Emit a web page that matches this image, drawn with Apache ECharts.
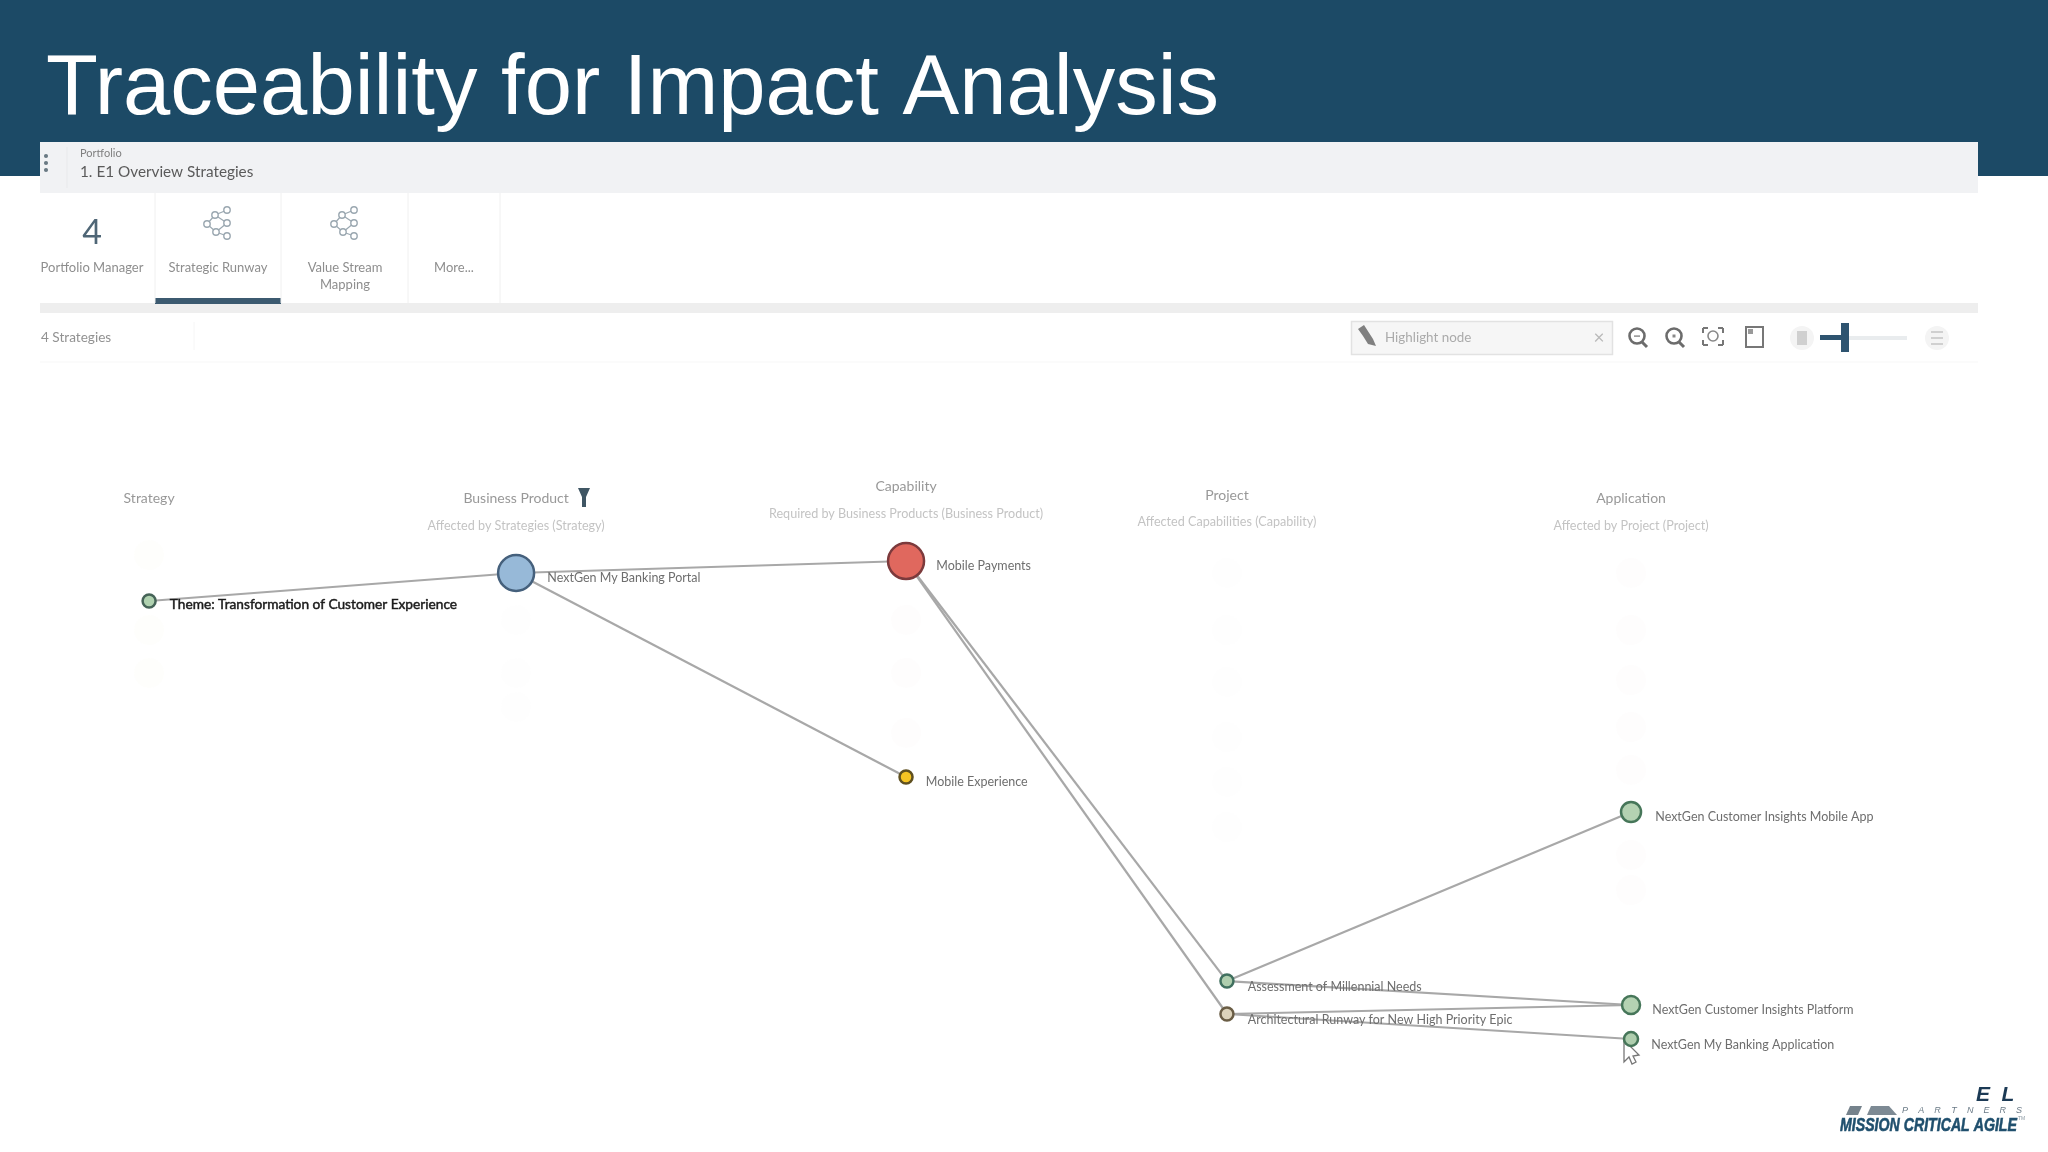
<!DOCTYPE html>
<html><head><meta charset="utf-8">
<style>html,body{margin:0;padding:0;background:#fff}#c{width:2048px;height:1152px;filter:blur(0.7px)}</style>
<script src="https://cdn.jsdelivr.net/npm/echarts@6/dist/echarts.min.js"></script>
</head><body><div id="c"></div>
<script>
// Column (tier) data, in percent of the slide width / height
const columnNames = ['Strategy','Business Product','Capability','Project','Application'];
const columnSubs  = ['','Affected by Strategies (Strategy)','Required by Business Products (Business Product)','Affected Capabilities (Capability)','Affected by Project (Project)'];
const columnX     = [7.28,25.2,44.24,59.91,79.64];
const headingY    = [43.23,43.23,42.27,42.97,43.23];
const subHeadingY = [45.6,45.66,44.6,45.31,45.66];
// Nodes
const nodeNames  = ['Theme: Transformation of Customer Experience','NextGen My Banking Portal','Mobile Payments','Mobile Experience','Assessment of Millennial Needs','Architectural Runway for New High Priority Epic','NextGen Customer Insights Mobile App','NextGen Customer Insights Platform','NextGen My Banking Application'];
const nodeColumn = [0,1,2,2,3,3,4,4,4];
const nodeRow    = [52.17,49.74,48.7,67.45,85.16,88.02,70.49,87.24,90.19];
const nodeSize   = [13,36,36,13,13,13,20,18,14];
const nodeFill   = ['#b0d2b0','#97b9d8','#e0685e','#f5c423','#afceae','#dcd2ba','#b4d2b2','#b4d2b2','#afceae'];
const nodeStroke = ['#466458','#45607c','#7c3a3c','#5f5020','#40705f','#6a5d45','#467659','#467659','#467659'];
const labelGap   = [13,12,11,12,13,13,13,11,12];
const labelDrop  = [4,5,5,5,6,6,5,5,6];
const linkFrom   = [0,1,1,2,2,4,4,5,5];
const linkTo     = [1,2,3,4,5,6,7,7,8];
// Nodes dimmed almost to nothing behind the highlighted path
const ghostColumn = [0,0,0,1,1,1,2,2,2,3,3,3,3,3,3,4,4,4,4,4,4,4];
const ghostRow    = [48.18,54.69,58.42,53.82,58.42,61.37,53.82,58.42,63.63,49.74,54.69,59.2,63.98,67.88,71.79,49.74,54.69,59.03,63.11,66.84,74.22,77.26];
const ghostColor  = ['#fefefb','#fefefe','#fefcfc','#fefefe','#fefdfd'];
// Page chrome text
const slideTitle = 'Traceability for Impact Analysis';
const crumbs     = ['Portfolio','1. E1 Overview Strategies'];
const tabCentres = [92,218,345,454];
const tabLabels  = ['Portfolio Manager','Strategic Runway','Value Stream\nMapping','More...'];
const tabDividers= [155,281,408,500];
const logoLetters= ['P','A','R','T','N','E','R','S'];

const UI = 'Lato, "Open Sans", sans-serif';
const txt = (x,y,text,size,fill,align,extra) => ({type:'text',x,y,style:Object.assign({text,font:`${size}px ${UI}`,fill,align:align||'left',verticalAlign:'middle'},extra||{})});
const rect = (x,y,w,h,fill,extra) => ({type:'rect',shape:{x,y,width:w,height:h},style:Object.assign({fill},extra||{})});
const line = (x1,y1,x2,y2,stroke,lw) => ({type:'line',shape:{x1,y1,x2,y2},style:{stroke,lineWidth:lw}});
const ring = (cx,cy,r,stroke,lw,fill) => ({type:'circle',shape:{cx,cy,r},style:{stroke,lineWidth:lw,fill:fill||'transparent'}});
const poly = (points,fill) => ({type:'polygon',shape:{points},style:{fill}});

function graphIcon(cx,cy){
  const pts=[[-11,0],[-3,-9],[9,-14],[9,-1],[-2,8],[9,12]], edges=[[0,1],[1,2],[1,3],[0,4],[4,3],[4,5]], s='#9aa7b0', out=[];
  edges.forEach(e=>out.push(line(cx+pts[e[0]][0],cy+pts[e[0]][1],cx+pts[e[1]][0],cy+pts[e[1]][1],s,1.2)));
  pts.forEach(p=>out.push(ring(cx+p[0],cy+p[1],3.2,s,1.4,'#fff')));
  return out;
}
function magnifier(cx,cy,dot){
  const s='#6c6c6c', o=[ring(cx,cy-1,7.5,s,2.6,'#fff'),line(cx+5,cy+5,cx+10,cy+10,s,3)];
  o.push(rect(cx-(dot?1.5:3),cy-(dot?2.5:1.6),dot?3:6,dot?3:1.4,'#888'));
  return o;
}
const chrome = [].concat(
  [ rect(0,0,2048,176,'#1c4a66'),
    rect(40,142,1938,1010,'#ffffff'),
    rect(40,142,1938,51,'#f1f2f4'),
    line(67,147,67,188,'#e8e9eb',1),
    {type:'text',x:46,y:91,style:{text:slideTitle,font:'85px "Liberation Sans", Arial, sans-serif',fill:'#ffffff',verticalAlign:'middle'}},
    ring(46,156,1.3,'#6a7a84',1.5,'#6a7a84'),ring(46,163,1.3,'#6a7a84',1.5,'#6a7a84'),ring(46,170,1.3,'#6a7a84',1.5,'#6a7a84'),
    txt(80,153,crumbs[0],11,'#808080'),
    txt(80,172,crumbs[1],15.3,'#5a5a5a'),
    rect(40,303,1938,10,'#eeeeee'),
    rect(155,298,126,6,'#3c5a70')
  ],
  tabDividers.map(x=>line(x,193,x,303,'#f0f0f0',1)),
  tabLabels.map((t,i)=>txt(tabCentres[i],i===2?276:268,t,13,'#8e8e8e','center',{lineHeight:17})),
  [ txt(92,233,'4',34,'#4f6676','center') ],
  graphIcon(218,224), graphIcon(345,224),
  [ txt(41,338,'4 Strategies',13.6,'#929292'),
    line(194,322,194,350,'#f6f6f6',1),
    line(40,362,1978,362,'#f7f7f7',1),
    rect(1351.5,321.5,261,33,'#f6f6f6',{stroke:'#e2e2e2',lineWidth:1.5}),
    poly([[1358,329],[1364,325],[1373,339],[1376,346],[1368,344],[1363,336]],'#808080'),
    txt(1385,338,'Highlight node',13.4,'#ababab'),
    txt(1599,338,'×',19,'#bababa','center')
  ],
  magnifier(1637,337,false), magnifier(1674,337,true),
  [ ring(1713,336,5,'#888',1.6),
    line(1703,328,1703,333,'#777',2),line(1703,328,1708,328,'#777',2),line(1723,328,1723,333,'#777',2),line(1718,328,1723,328,'#777',2),
    line(1703,340,1703,345,'#777',2),line(1703,345,1708,345,'#777',2),line(1723,340,1723,345,'#777',2),line(1718,345,1723,345,'#777',2),
    rect(1746,327,17,20,'#fff',{stroke:'#777',lineWidth:2}),
    rect(1748,329,5,5,'#999'),
    ring(1802,338,12,'#f4f4f4',0,'#f4f4f4'), rect(1797,331,10,14,'#d0d0d0'),
    ring(1937,338,12,'#f4f4f4',0,'#f4f4f4'),
    line(1931,332,1943,332,'#c4c4c4',1.5),line(1931,338,1943,338,'#c4c4c4',1.5),line(1931,344,1943,344,'#c4c4c4',1.5),
    line(1845,338,1907,338,'#e9ecee',4),
    rect(1820,335,25,5,'#2e5470'), rect(1841,323,8,29,'#2e5470'),
    // filter glyph next to Business Product
    poly([[578,488],[590,488],[586,497],[586,507],[582,507],[582,497]],'#3f5664'),
    // mouse pointer
    {type:'polygon',shape:{points:[[1624,1040],[1624,1062],[1629,1057],[1632,1064],[1636,1062],[1633,1056],[1639,1055]]},style:{fill:'#fff',stroke:'#777',lineWidth:1.3}},
    // logo
    {type:'text',x:1983,y:1095,style:{text:'E',font:'italic bold 21px "Liberation Sans", sans-serif',fill:'#1c3a55',align:'center',verticalAlign:'middle'}},
    {type:'text',x:2008,y:1095,style:{text:'L',font:'italic bold 21px "Liberation Sans", sans-serif',fill:'#1c3a55',align:'center',verticalAlign:'middle'}},
    {type:'text',x:1840,y:1126,scaleX:0.745,style:{text:'MISSION CRITICAL AGILE',font:'italic bold 19px "Liberation Sans", sans-serif',fill:'#1f4f6d',stroke:'#1f4f6d',lineWidth:0.6,verticalAlign:'middle'}},
    {type:'text',x:2018,y:1119,style:{text:'TM',font:'5px "Liberation Sans", sans-serif',fill:'#8a98a2',verticalAlign:'middle'}},
    poly([[1850,1106],[1862,1106],[1858,1115],[1846,1115]],'#75828c'),
    poly([[1871,1106],[1889,1106],[1897,1115],[1867,1115]],'#7d8a94')
  ],
  logoLetters.map((l,i)=>({type:'text',x:1905+i*16.3,y:1110,style:{text:l,font:'italic 9px "Liberation Sans", sans-serif',fill:'#6a7a86',align:'center',verticalAlign:'middle'}}))
);

const nodes = nodeNames.map((name,i)=>({
  name,
  value:[columnX[nodeColumn[i]],nodeRow[i]],
  symbolSize:nodeSize[i],
  itemStyle:{color:nodeFill[i],borderColor:nodeStroke[i],borderWidth:2.5},
  label:Object.assign({show:true,position:'right',distance:labelGap[i],offset:[0,labelDrop[i]],formatter:name,
    fontFamily:UI,fontSize:i===0?13.7:12.5,color:i===0?'#1a1a1a':'#6e6e6e'},
    i===0?{textBorderColor:'#333',textBorderWidth:0.5}:{})
}));
const links = linkFrom.map((s,i)=>({source:s,target:linkTo[i]}));
const headings = columnNames.map((n,i)=>({value:[columnX[i],headingY[i]],label:{formatter:n,fontSize:14,color:'#7e7e7e'}}));
const subheads = columnSubs.map((n,i)=>({value:[columnX[i],subHeadingY[i]],label:{formatter:n,fontSize:12.6,color:'#b4b4b4'}}));
const ghosts = ghostRow.map((r,i)=>({value:[columnX[ghostColumn[i]],r],itemStyle:{color:ghostColor[ghostColumn[i]]}}));

const chart = echarts.init(document.getElementById('c'),null,{renderer:'canvas',width:2048,height:1152});
chart.setOption({
  animation:false,backgroundColor:'#fff',
  grid:{left:0,right:0,top:0,bottom:0},
  xAxis:{type:'value',min:0,max:100,show:false},
  yAxis:{type:'value',min:0,max:100,inverse:true,show:false},
  graphic:{elements:chrome.map(e=>Object.assign({silent:true,z:-1},e))},
  series:[
    {type:'scatter',symbolSize:30,silent:true,data:ghosts},
    {type:'scatter',symbolSize:0,silent:true,data:headings.concat(subheads),
      label:{show:true,position:'inside',fontFamily:UI,align:'center',verticalAlign:'middle'}},
    {type:'graph',coordinateSystem:'cartesian2d',layout:'none',silent:true,
      data:nodes,links,
      lineStyle:{color:'#a8a8a8',width:2.2,opacity:1,curveness:0}}
  ]
});
</script></body></html>
